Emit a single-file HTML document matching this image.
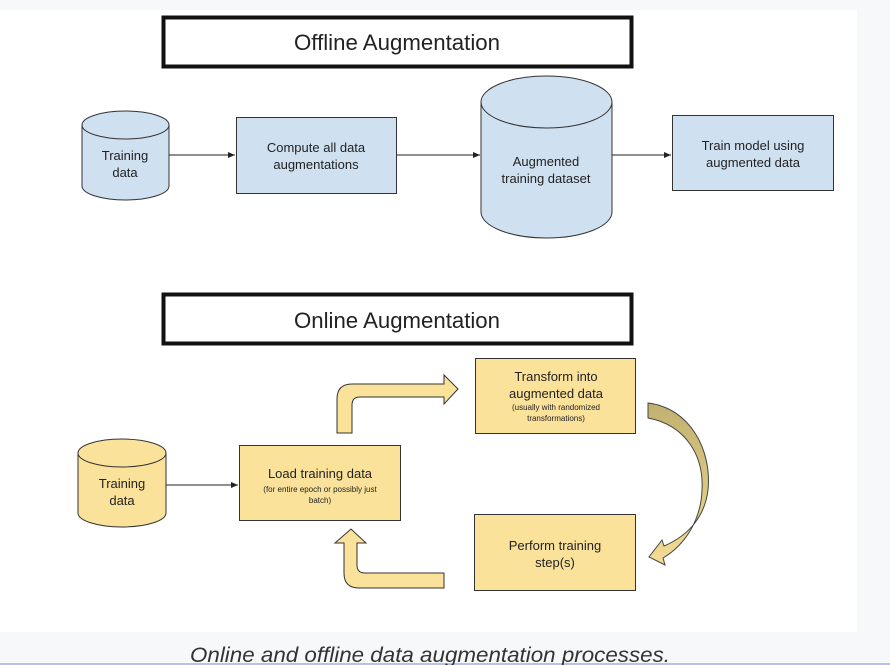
<!DOCTYPE html>
<html><head><meta charset="utf-8"><style>
body{margin:0;width:890px;height:665px;background:#f7f8f9;overflow:hidden;font-family:"Liberation Sans",sans-serif}
</style></head><body>
<svg width="890" height="665" xmlns="http://www.w3.org/2000/svg" style="position:absolute;left:0;top:0">
<defs>
<marker id="a" markerWidth="8" markerHeight="8" refX="7" refY="4" orient="auto" markerUnits="userSpaceOnUse"><path d="M0,1 L7,4 L0,7z" fill="#222"/></marker>
<linearGradient id="g" x1="0" y1="0" x2="0" y2="1"><stop offset="0" stop-color="#c2b070"/><stop offset="0.5" stop-color="#d8c680"/><stop offset="1" stop-color="#f5dc95"/></linearGradient>
</defs>
<rect x="0" y="10" width="857" height="622" fill="#fff"/>
<rect x="0" y="632" width="890" height="33" fill="#f7f8f9"/>
<line x1="0" y1="664" x2="890" y2="664" stroke="#b9c0ee" stroke-width="2"/>
<g font-family="Liberation Sans, sans-serif" fill="#222" text-anchor="middle">
<!-- offline -->
<rect x="163.5" y="17.5" width="468" height="49" fill="#fff" stroke="#111" stroke-width="4"/>
<text x="397" y="50" font-size="22" textLength="206" lengthAdjust="spacingAndGlyphs">Offline Augmentation</text>
<path d="M82,125 L82,186 A43.5,14 0 0 0 169,186 L169,125" fill="#cfe0f0" stroke="#333"/>
<ellipse cx="125.5" cy="125" rx="43.5" ry="14" fill="#cfe0f0" stroke="#333"/>
<text x="125" y="160" font-size="13">Training</text><text x="125" y="177" font-size="13">data</text>
<line x1="169" y1="155" x2="235" y2="155" stroke="#222" marker-end="url(#a)"/>
<rect x="236.5" y="117.5" width="160" height="76" fill="#cfe0f0" stroke="#333"/>
<text x="316" y="152" font-size="13">Compute all data</text><text x="316" y="169" font-size="13">augmentations</text>
<line x1="397" y1="155" x2="480" y2="155" stroke="#222" marker-end="url(#a)"/>
<path d="M481,102 L481,212 A65.5,26 0 0 0 612,212 L612,102" fill="#cfe0f0" stroke="#333"/>
<ellipse cx="546.5" cy="102" rx="65.5" ry="26" fill="#cfe0f0" stroke="#333"/>
<text x="546" y="166" font-size="13">Augmented</text><text x="546" y="183" font-size="13">training dataset</text>
<line x1="612" y1="155" x2="671" y2="155" stroke="#222" marker-end="url(#a)"/>
<rect x="672.5" y="115.5" width="161" height="75" fill="#cfe0f0" stroke="#333"/>
<text x="753" y="150" font-size="13">Train model using</text><text x="753" y="167" font-size="13">augmented data</text>
<!-- online -->
<rect x="163.5" y="294.5" width="468" height="49" fill="#fff" stroke="#111" stroke-width="4"/>
<text x="397" y="328" font-size="22" textLength="206" lengthAdjust="spacingAndGlyphs">Online Augmentation</text>
<path d="M78,453 L78,513 A44,14 0 0 0 166,513 L166,453" fill="#fbe29b" stroke="#333"/>
<ellipse cx="122" cy="453" rx="44" ry="14" fill="#fbe29b" stroke="#333"/>
<text x="122" y="488" font-size="13">Training</text><text x="122" y="505" font-size="13">data</text>
<line x1="166" y1="485" x2="238" y2="485" stroke="#222" marker-end="url(#a)"/>
<rect x="239.5" y="445.5" width="161" height="75" fill="#fbe29b" stroke="#333"/>
<text x="320" y="478" font-size="13">Load training data</text>
<text x="320" y="492" font-size="8">(for entire epoch or possibly just</text><text x="320" y="503" font-size="8">batch)</text>
<rect x="475.5" y="358.5" width="160" height="75" fill="#fbe29b" stroke="#333"/>
<text x="556" y="381" font-size="13">Transform into</text><text x="556" y="398" font-size="13">augmented data</text>
<text x="556" y="410" font-size="8">(usually with randomized</text><text x="556" y="421" font-size="8">transformations)</text>
<rect x="474.5" y="514.5" width="161" height="76" fill="#fbe29b" stroke="#333"/>
<text x="555" y="550" font-size="13">Perform training</text><text x="555" y="567" font-size="13">step(s)</text>
<!-- bent arrows -->
<path d="M337,433 L337,399 Q337,384 352,384 L444,384 L444,375 L458,389 L444,404 L444,397 L360,397 Q352,397 352,405 L352,433 Z" fill="#fbe29b" stroke="#333"/>
<path d="M444,588 L359,588 Q344,588 344,573 L344,543 L335,543 L351,529 L366,543 L357,543 L357,565 Q357,573 365,573 L444,573 Z" fill="#fbe29b" stroke="#333"/>
<!-- curved arrow -->
<path d="M648,403 C690,408 712,450 708,490 C705,515 690,535 664,546 L662,540 L649,557 L665,565 L663,558 C685,545 701,520 702,490 C704,455 685,425 648,418 Z" fill="url(#g)" stroke="#444"/>
</g>
<text x="430" y="662" font-family="Liberation Sans, sans-serif" font-style="italic" font-size="21" fill="#333" text-anchor="middle" textLength="480" lengthAdjust="spacingAndGlyphs">Online and offline data augmentation processes.</text>
</svg>
</body></html>
